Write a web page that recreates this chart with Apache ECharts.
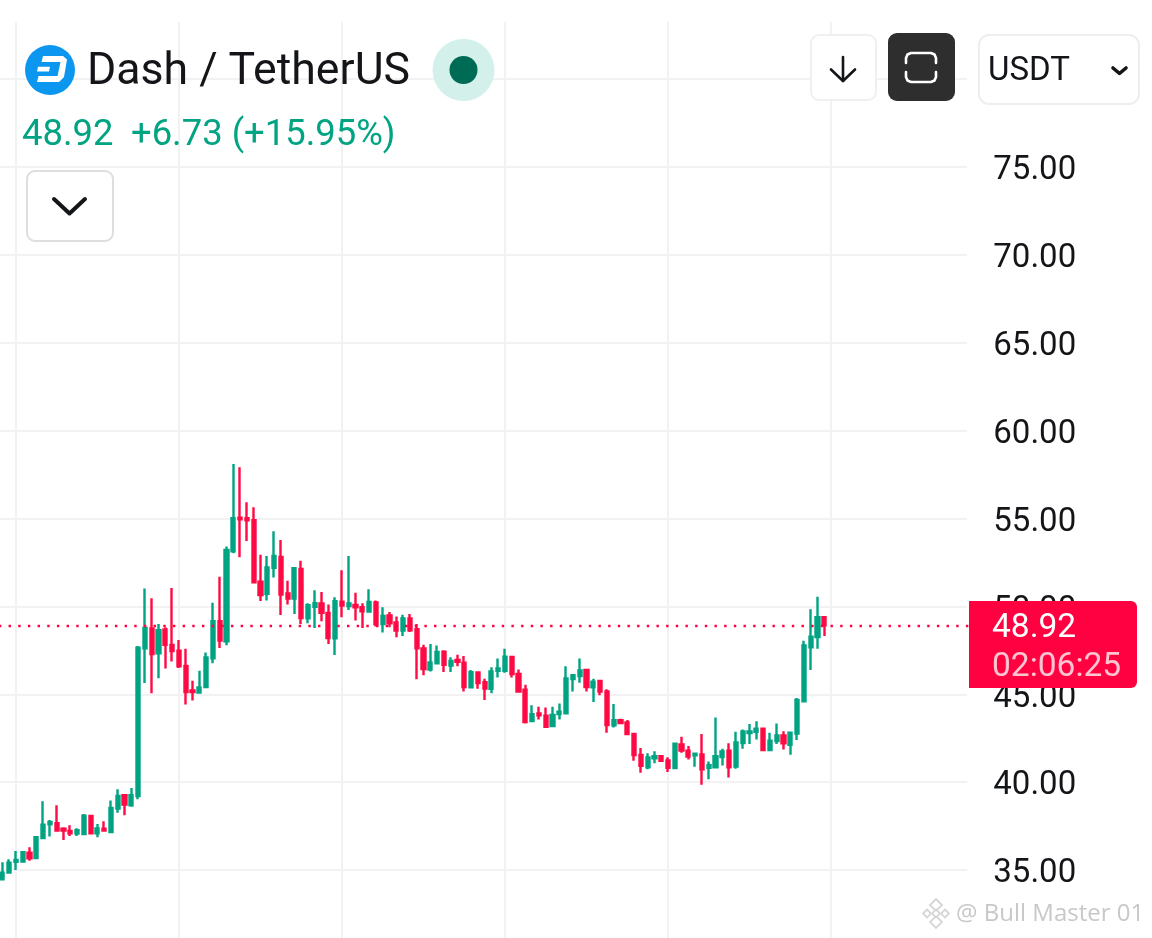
<!DOCTYPE html>
<html>
<head>
<meta charset="utf-8">
<script src="https://cdn.jsdelivr.net/npm/echarts@6/dist/echarts.min.js"></script>
<style>html,body{margin:0;padding:0;background:#fff}#c{width:1152px;height:938px;filter:blur(0.35px)}</style>
</head>
<body>
<div id="c"></div>
<script>
const opens = [34.47,34.85,35.46,35.48,35.99,35.68,36.82,37.60,37.66,37.35,37.22,37.07,37.05,38.07,37.09,37.35,37.16,38.49,39.25,38.68,39.21,47.61,48.75,47.33,48.69,47.80,47.48,46.61,45.22,45.09,45.41,47.04,49.15,48.01,53.13,55.05,55.01,54.90,51.41,50.71,52.19,52.81,50.73,50.44,52.13,49.32,49.97,50.16,49.63,48.18,50.27,50.02,50.08,49.95,49.70,50.23,49.00,49.49,49.09,48.62,49.32,48.70,47.61,46.41,46.76,47.42,46.64,46.95,46.79,45.39,46.24,45.68,45.31,46.34,46.34,47.12,46.15,45.26,43.47,43.91,43.78,43.19,43.87,43.91,45.86,46.04,46.38,45.39,45.75,45.16,43.23,43.53,43.40,42.74,41.54,40.84,41.35,41.48,41.24,40.80,42.15,41.79,41.52,41.58,40.82,40.84,41.43,41.79,40.88,42.22,42.79,42.87,43.04,41.83,42.34,42.66,42.13,42.77,44.60,47.67,48.26,49.39];
const closes = [34.85,35.42,35.57,36.01,35.66,36.86,37.58,37.73,37.24,37.24,37.09,37.26,38.09,37.09,37.37,37.24,38.53,39.21,38.72,39.25,47.65,48.77,47.29,48.64,47.82,47.46,46.59,45.13,45.13,45.39,47.10,49.15,48.05,53.21,55.01,54.95,54.90,51.37,50.65,52.22,52.87,50.67,50.44,52.17,49.34,50.06,50.18,49.63,48.20,50.29,50.04,50.16,49.95,49.72,50.25,49.00,49.45,49.04,48.62,49.32,48.64,47.61,46.43,46.81,47.40,46.68,46.89,46.85,45.41,46.26,45.64,45.33,46.30,46.47,47.14,46.15,45.16,43.42,43.87,43.80,43.15,43.82,44.01,45.90,46.09,46.36,45.41,45.71,45.16,43.25,43.53,43.36,42.74,41.54,40.93,41.41,41.48,41.22,40.82,42.19,41.79,41.45,41.62,40.73,40.97,41.48,41.75,40.84,42.26,42.89,42.89,43.04,41.83,42.36,42.66,42.21,42.81,44.67,47.78,48.27,49.39,48.92];
const lows = [34.45,34.81,35.00,35.42,35.53,35.68,36.82,36.90,37.20,36.71,36.94,36.94,37.05,37.09,36.86,37.24,37.16,38.26,38.11,38.60,39.02,45.64,45.05,45.91,46.46,46.87,46.49,44.41,44.64,45.05,45.41,46.76,47.63,47.79,53.02,52.79,53.72,51.33,50.31,50.33,51.65,49.51,50.10,49.57,49.00,49.04,48.77,49.15,47.86,47.24,49.38,49.80,49.19,48.77,49.68,48.85,48.51,48.81,48.24,48.32,48.54,45.85,46.08,46.30,46.76,46.26,46.26,46.60,45.16,45.35,45.31,44.67,45.05,45.96,46.23,45.96,45.13,43.34,43.46,43.57,43.11,43.15,43.57,43.91,45.16,45.66,45.16,44.56,44.94,42.81,43.11,43.30,42.70,41.22,40.54,40.73,41.07,41.14,40.57,40.80,41.67,41.29,40.88,39.85,40.16,40.84,40.95,40.27,40.76,41.90,42.17,42.43,41.79,41.75,42.17,41.86,41.56,42.39,44.56,46.38,47.59,48.31];
const highs = [35.44,35.61,36.08,36.08,36.29,36.94,38.91,37.85,38.68,37.43,37.54,37.37,38.19,38.11,37.62,37.77,38.95,39.59,39.33,39.67,47.75,51.01,50.46,49.00,48.81,51.05,48.09,47.59,45.77,46.34,47.37,50.21,51.69,53.40,58.10,57.91,55.92,55.64,52.94,52.87,54.27,53.78,51.46,52.19,52.60,50.18,50.92,50.82,50.10,50.52,52.05,52.87,50.78,50.18,50.97,50.33,49.95,49.68,49.42,49.53,49.57,49.00,47.82,47.86,47.78,47.50,47.10,47.25,47.17,46.38,46.30,45.88,46.53,47.04,47.59,47.14,46.41,45.54,44.37,44.29,44.25,44.29,44.48,46.60,46.11,47.04,46.45,45.88,45.81,45.28,44.44,43.61,43.53,42.76,41.94,41.64,41.75,41.54,41.41,42.21,42.58,42.05,41.64,42.74,41.18,43.68,41.90,42.21,42.87,43.00,43.31,43.46,43.08,42.81,43.34,42.89,42.85,44.78,48.05,49.83,50.55,49.45];
const yTicks = [30,35,40,45,50,55,60,65,70,75,80,85];
const lastPrice = 48.92;
const slotCount = 143;
const categories = Array.from({length: slotCount}, (_, i) => String(i + 1));
const symbolName = 'Dash / TetherUS';
const priceText = '48.92';
const changeText = '+6.73 (+15.95%)';
const countdown = '02:06:25';
const quoteText = 'USDT';
const watermark = '@ Bull Master 01';

const GREEN = '#00a382', RED = '#ff0a45', TAG = '#ff0040', GRID = '#f2f2f2', INK = '#131518';
const FONT = 'Roboto';
const candles = opens.map((o, i) => [o, closes[i], lows[i], highs[i]]);

const txt = (x, y, text, size, fill, extra) => ({type:'text', z:100, x, y, style:Object.assign({text, fontFamily:FONT, fontSize:size, fill, textVerticalAlign:'middle', verticalAlign:'middle'}, extra||{})});
const box = (x, y, w, h, r, fill, stroke, z) => ({type:'rect', z:z||100, shape:{x,y,width:w,height:h,r}, style:{fill, stroke:stroke||null, lineWidth:2}});
const pline = (pts, stroke, w, z) => ({type:'polyline', z:z||101, shape:{points:pts}, style:{stroke, lineWidth:w, fill:null, lineCap:'round', lineJoin:'round'}});
const diamond = (cx, cy, r) => ({type:'polygon', z:100, shape:{points:[[cx,cy-r],[cx+r,cy],[cx,cy+r],[cx-r,cy]]}, style:{fill:'#fff', stroke:'#d6d6d6', lineWidth:1.8}});

const graphics = [
  box(0,0,1152,22,0,'#fff',null,1),
  box(967,0,5,938,0,'#fff',null,1),
  {type:'circle', z:100, shape:{cx:50,cy:70,r:25}, style:{fill:'#0b96f0'}},
  {type:'polygon', z:101, shape:{points:[[43,56],[63,56],[67,59.5],[64,77],[59,82],[37,82],[38.5,76],[57.5,76],[60.5,62],[41.5,62]]}, style:{fill:'#fff'}},
  {type:'polygon', z:101, shape:{points:[[38,66.7],[50,66.7],[49,71.5],[37,71.5]]}, style:{fill:'#fff'}},
  txt(87,73,symbolName,44.6,INK),
  {type:'circle', z:100, shape:{cx:463.5,cy:70,r:31}, style:{fill:'#d3f0ea'}},
  {type:'circle', z:101, shape:{cx:463.5,cy:70,r:14}, style:{fill:'#006b54'}},
  txt(22,136,priceText,36.4,GREEN),
  txt(131,136,changeText,36.4,GREEN),
  box(27,171,86,70,8,'#fff','#dedede'),
  pline([[54,199],[69.5,213.5],[85,199]],INK,4),
  box(811,35,65,65,8,'#fff','#f0f0f0'),
  pline([[843,57],[843,81]],INK,2.6),
  pline([[831,69.5],[843,81],[855,69.5]],INK,2.6),
  box(888,33,67,68,9,'#2e2e2e'),
  pline([[906,63],[906,58],[907.5,54.5],[911,53],[931,53],[934.5,54.5],[936,58],[936,63]],'#fff',2.6),
  pline([[906,72],[906,77],[907.5,80.5],[911,82],[931,82],[934.5,80.5],[936,77],[936,72]],'#fff',2.6),
  box(979,35,160,69,10,'#fff','#eeeeee'),
  txt(988,72,quoteText,33,INK),
  pline([[1113,68],[1119.5,73.5],[1126,68]],INK,3.6),
  {type:'rect', z:100, shape:{x:969,y:601,width:168,height:87,r:[0,6,6,0]}, style:{fill:TAG}},
  txt(992,629,priceText,33.5,'#ffffff'),
  txt(992,668,countdown,33.5,'#ffc4d0'),
  diamond(936,905,6),diamond(927,913.5,4),diamond(945,913.5,4),diamond(936,922,6),diamond(936,913.5,4),
  txt(956,914,watermark,24,'#c8c8c8',{fontFamily:'Open Sans'})
];

const chart = echarts.init(document.getElementById('c'), null, {renderer:'canvas', width:1152, height:938});
chart.setOption({
  animation:false,
  backgroundColor:'#ffffff',
  grid:{left:-1.1, top:-8.75, width:971.4, height:966.625, containLabel:false, outerBoundsMode:'none'},
  xAxis:{type:'category', data:categories, boundaryGap:true, axisLine:{show:false}, axisTick:{show:false}, axisLabel:{show:false},
    splitLine:{show:true, alignWithLabel:true, interval:(i)=>(i-2)%24===0, lineStyle:{color:GRID, width:2}}},
  yAxis:{type:'value', position:'right', min:yTicks[0], max:yTicks[yTicks.length-1], interval:5, scale:false,
    axisLine:{show:false}, axisTick:{show:false},
    axisLabel:{margin:23, fontFamily:FONT, fontSize:33, color:INK, showMinLabel:true, showMaxLabel:true,
      formatter:(v)=>'{p|'+v.toFixed(2)+'}',
      rich:{p:{fontFamily:FONT, fontSize:33, color:INK, padding:[8,0,0,0]}}},
    splitLine:{show:true, lineStyle:{color:GRID, width:2}}},
  series:[{type:'candlestick', data:candles, barWidth:3.7,
    itemStyle:{color:GREEN, color0:RED, borderColor:GREEN, borderColor0:RED, borderWidth:2.4},
    markLine:{silent:true, symbol:'none', animation:false, label:{show:false},
      lineStyle:{color:TAG, type:[2.4,7.27], width:2.4, opacity:1}, emphasis:{disabled:true},
      data:[{yAxis:lastPrice}]}}],
  graphic:{elements:graphics}
});
</script>
</body>
</html>
